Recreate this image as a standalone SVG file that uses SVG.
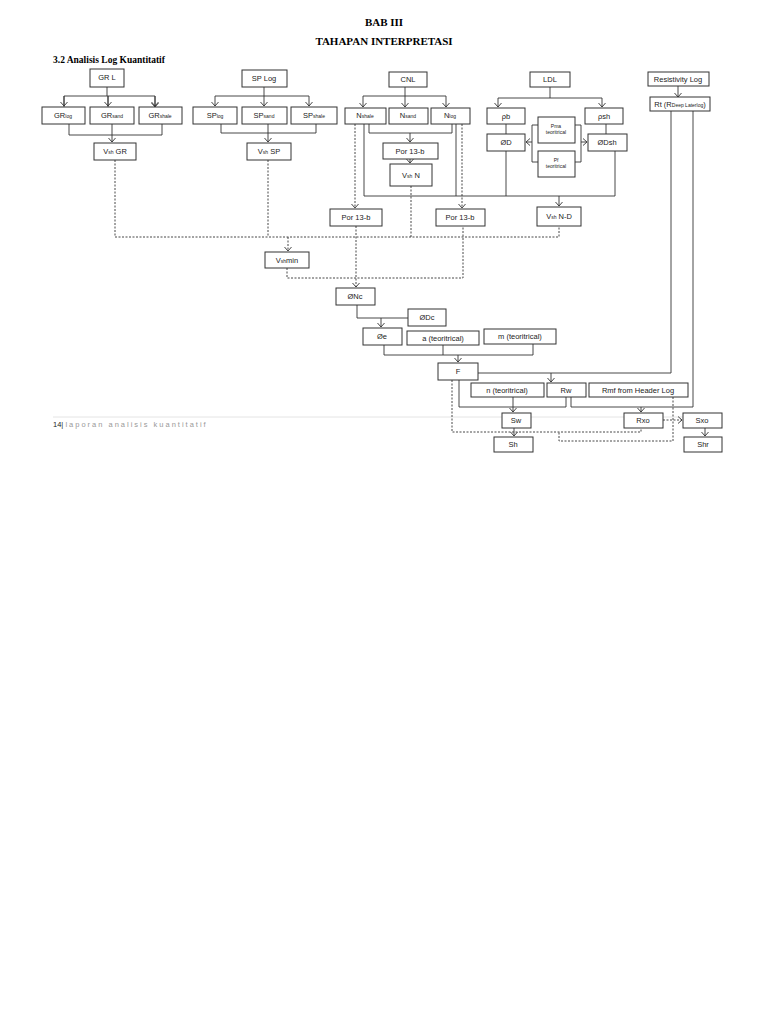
<svg xmlns="http://www.w3.org/2000/svg" width="768" height="1024" viewBox="0 0 768 1024">
<style>
.b{fill:#fff;stroke:#333;stroke-width:1}
text{font-family:"Liberation Sans",Arial,sans-serif;font-size:7.5px;fill:#222;text-anchor:middle}
.s{font-size:5px}
.t{font-family:"Liberation Serif","Times New Roman",serif;font-weight:bold;font-size:11px;fill:#000}
.l{fill:none;stroke:#333;stroke-width:0.9}
.d{fill:none;stroke:#333;stroke-width:0.9;stroke-dasharray:2,1.5}
</style>
<defs><marker id="a" markerWidth="8" markerHeight="8" refX="4" refY="4" orient="auto" markerUnits="userSpaceOnUse"><path d="M0,0.5 L4,4 L0,7.5" fill="none" stroke="#333" stroke-width="0.9"/></marker></defs>
<rect width="768" height="1024" fill="#fff"/>
<text class="t" x="384" y="26">BAB III</text>
<text class="t" x="384" y="45">TAHAPAN INTERPRETASI</text>
<text class="t" x="53" y="63" style="text-anchor:start;font-size:9.5px">3.2 Analisis Log Kuantitatif</text>
<line x1="53" y1="417" x2="715" y2="417" stroke="#ddd" stroke-width="0.8"/>
<text x="53" y="427" style="text-anchor:start;font-size:7.5px">14| <tspan fill="#999" letter-spacing="2">laporan analisis kuantitatif</tspan></text>
<g id="connectors">
<path class="l" d="M107,87V96M64,96H155M64,96V107M108,96V107M155,96V107" marker-end="url(#a)"/>
<path class="l" d="M64,96V106" marker-end="url(#a)"/><path class="l" d="M155,96V106" marker-end="url(#a)"/><path class="l" d="M108,96V106" marker-end="url(#a)"/>
<path class="l" d="M69,124V135H162V124M112,124V142" marker-end="url(#a)"/>
<path class="l" d="M264,87V106" marker-end="url(#a)"/><path class="l" d="M215,96H309"/><path class="l" d="M215,96V106" marker-end="url(#a)"/><path class="l" d="M309,96V106" marker-end="url(#a)"/>
<path class="l" d="M221,124V133H316V124M268,124V142" marker-end="url(#a)"/>
<path class="l" d="M405,87V107" marker-end="url(#a)"/><path class="l" d="M363,96H446"/><path class="l" d="M363,96V107" marker-end="url(#a)"/><path class="l" d="M446,96V107" marker-end="url(#a)"/>
<path class="l" d="M369,124V133H452V124M410,133V142" marker-end="url(#a)"/>
<path class="l" d="M410,159V163" marker-end="url(#a)"/>
<path class="l" d="M550,87V98"/><path class="l" d="M498,98H602"/><path class="l" d="M498,98V107" marker-end="url(#a)"/><path class="l" d="M602,98V107" marker-end="url(#a)"/>
<path class="l" d="M506,124V134M606,124V134"/>
<path class="l" d="M538,125H532V162H538M532,142H526" marker-end="url(#a)"/>
<path class="l" d="M575,125H581V162H575M581,142H587" marker-end="url(#a)"/>
<path class="l" d="M364,124V196H615V151M456,124V196M506,151V196"/>
<path class="l" d="M559,196V206" marker-end="url(#a)"/>
<path class="d" d="M355,124V208" marker-end="url(#a)"/><path class="d" d="M462,124V208" marker-end="url(#a)"/>
<path class="d" d="M115,160V237H559V226M268,160V237M411,186V237"/>
<path class="d" d="M288,237V251" marker-end="url(#a)"/>
<path class="d" d="M287,268V278H463V226"/>
<path class="d" d="M356,226V287" marker-end="url(#a)"/>
<path class="l" d="M678,86V97" marker-end="url(#a)"/>
<path class="l" d="M357,305V318H408M381,318V327" marker-end="url(#a)"/>
<path class="l" d="M384,345V355H533V344M443,345V355M458,355V362" marker-end="url(#a)"/>
<path class="l" d="M478,373H671V111M551,373V382" marker-end="url(#a)"/>
<path class="l" d="M459,380V407H566V397M513,397V412" marker-end="url(#a)"/>
<path class="l" d="M571,397V407H693V111M641,407V412" marker-end="url(#a)"/>
<path class="d" d="M663,420H682" marker-end="url(#a)"/>
<path class="l" d="M705,428V436" marker-end="url(#a)"/>
<path class="l" d="M514,428V436" marker-end="url(#a)"/>
<path class="d" d="M452,380V432H641V428M673,397V441H559V432"/>
</g>
<g id="n-grl"><rect class="b" x="90" y="69" width="34" height="18"/><text x="107" y="80">GR L</text></g>
<g id="n-grlog"><rect class="b" x="42" y="107" width="43" height="17"/><text x="63" y="118">GR<tspan class="s">log</tspan></text></g>
<g id="n-grsand"><rect class="b" x="90" y="107" width="44" height="17"/><text x="112" y="118">GR<tspan class="s">sand</tspan></text></g>
<g id="n-grshale"><rect class="b" x="139" y="107" width="43" height="17"/><text x="160" y="118">GR<tspan class="s">shale</tspan></text></g>
<g id="n-vshgr"><rect class="b" x="94" y="143" width="42" height="17"/><text x="115" y="154">V<tspan class="s">sh</tspan> GR</text></g>
<g id="n-splog"><rect class="b" x="242" y="70" width="45" height="17"/><text x="264" y="81">SP Log</text></g>
<g id="n-splog2"><rect class="b" x="193" y="107" width="44" height="17"/><text x="215" y="118">SP<tspan class="s">log</tspan></text></g>
<g id="n-spsand"><rect class="b" x="242" y="107" width="45" height="17"/><text x="264" y="118">SP<tspan class="s">sand</tspan></text></g>
<g id="n-spshale"><rect class="b" x="291" y="107" width="46" height="17"/><text x="314" y="118">SP<tspan class="s">shale</tspan></text></g>
<g id="n-vshsp"><rect class="b" x="247" y="143" width="44" height="17"/><text x="269" y="154">V<tspan class="s">sh</tspan> SP</text></g>
<g id="n-cnl"><rect class="b" x="389" y="72" width="38" height="15"/><text x="408" y="82">CNL</text></g>
<g id="n-nshale"><rect class="b" x="345" y="108" width="41" height="16"/><text x="365" y="118">N<tspan class="s">shale</tspan></text></g>
<g id="n-nsand"><rect class="b" x="389" y="108" width="39" height="16"/><text x="408" y="118">N<tspan class="s">sand</tspan></text></g>
<g id="n-nlog"><rect class="b" x="431" y="108" width="39" height="16"/><text x="450" y="118">N<tspan class="s">log</tspan></text></g>
<g id="n-por1"><rect class="b" x="383" y="143" width="55" height="16"/><text x="410" y="154">Por 13-b</text></g>
<g id="n-vshn"><rect class="b" x="390" y="164" width="42" height="22"/><text x="411" y="178">V<tspan class="s">sh</tspan> N</text></g>
<g id="n-ldl"><rect class="b" x="530" y="72" width="40" height="15"/><text x="550" y="82">LDL</text></g>
<g id="n-rhob"><rect class="b" x="487" y="108" width="38" height="16"/><text x="506" y="119">ρb</text></g>
<g id="n-rhosh"><rect class="b" x="585" y="108" width="38" height="16"/><text x="604" y="119">ρsh</text></g>
<g id="n-od"><rect class="b" x="487" y="134" width="38" height="17"/><text x="506" y="145">ØD</text></g>
<g id="n-odsh"><rect class="b" x="588" y="134" width="39" height="17"/><text x="607" y="145">ØDsh</text></g>
<g id="n-pma"><rect class="b" x="538" y="117" width="37" height="26"/><text class="s" x="556" y="128">Pma</text><text class="s" x="556" y="134">teoritrical</text></g>
<g id="n-pf"><rect class="b" x="538" y="151" width="37" height="26"/><text class="s" x="556" y="162">Pf</text><text class="s" x="556" y="168">teoritrical</text></g>
<g id="n-res"><rect class="b" x="648" y="72" width="61" height="14"/><text x="678" y="82">Resistivity Log</text></g>
<g id="n-rt"><rect class="b" x="650" y="97" width="60" height="14"/><text x="680" y="107">Rt (R<tspan class="s">Deep Laterlog</tspan>)</text></g>
<g id="n-por2"><rect class="b" x="330" y="209" width="52" height="17"/><text x="356" y="220">Por 13-b</text></g>
<g id="n-por3"><rect class="b" x="436" y="209" width="49" height="17"/><text x="460" y="220">Por 13-b</text></g>
<g id="n-vshnd"><rect class="b" x="537" y="207" width="44" height="19"/><text x="559" y="219">V<tspan class="s">sh</tspan> N-D</text></g>
<g id="n-vshmin"><rect class="b" x="265" y="252" width="44" height="16"/><text x="287" y="263">V<tspan class="s">sh</tspan>min</text></g>
<g id="n-onc"><rect class="b" x="336" y="288" width="39" height="17"/><text x="355" y="299">ØNc</text></g>
<g id="n-odc"><rect class="b" x="408" y="309" width="38" height="17"/><text x="427" y="320">ØDc</text></g>
<g id="n-oe"><rect class="b" x="363" y="328" width="39" height="17"/><text x="382" y="339">Øe</text></g>
<g id="n-a"><rect class="b" x="407" y="331" width="72" height="14"/><text x="443" y="341">a (teoritrical)</text></g>
<g id="n-m"><rect class="b" x="484" y="329" width="72" height="15"/><text x="520" y="339">m (teoritrical)</text></g>
<g id="n-f"><rect class="b" x="438" y="363" width="40" height="17"/><text x="458" y="374">F</text></g>
<g id="n-n"><rect class="b" x="471" y="383" width="73" height="14"/><text x="507" y="393">n (teoritrical)</text></g>
<g id="n-rw"><rect class="b" x="547" y="383" width="39" height="14"/><text x="566" y="393">Rw</text></g>
<g id="n-rmf"><rect class="b" x="589" y="383" width="99" height="14"/><text x="638" y="393">Rmf from Header Log</text></g>
<g id="n-sw"><rect class="b" x="502" y="413" width="29" height="15"/><text x="516" y="423">Sw</text></g>
<g id="n-rxo"><rect class="b" x="624" y="413" width="39" height="15"/><text x="643" y="423">Rxo</text></g>
<g id="n-sxo"><rect class="b" x="683" y="413" width="39" height="15"/><text x="702" y="423">Sxo</text></g>
<g id="n-sh"><rect class="b" x="494" y="437" width="39" height="15"/><text x="513" y="447">Sh</text></g>
<g id="n-shr"><rect class="b" x="684" y="437" width="38" height="15"/><text x="703" y="447">Shr</text></g>
</svg>
